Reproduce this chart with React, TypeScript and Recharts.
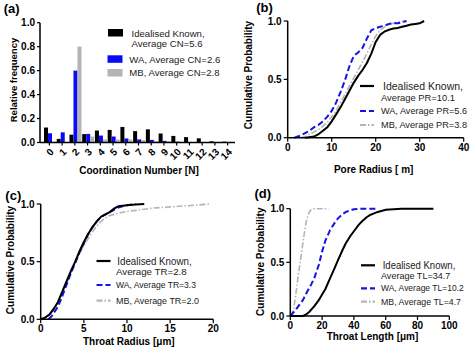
import React from "react"
import { BarChart, Bar, LineChart, Line, XAxis, YAxis } from "recharts"

const FONT = "'Liberation Sans', Arial, Helvetica, sans-serif"
const BLUE = "#1414e6"
const BLUE_BAR = "#0a0af5"
const GREY = "#b4b4b4"

// (a) coordination number histogram
const cnCategories = ["0", "1", "2", "3", "4", "5", "6", "7", "8", "9", "10", "11", "12", "13", "14"]
const cnIdealised = [0.125, 0.03, 0.065, 0.07, 0.1, 0.105, 0.13, 0.095, 0.11, 0.075, 0.055, 0.045, 0.035, 0.01, 0.007]
const cnWA = [0.077, 0.085, 0.6, 0.072, 0.058, 0.05, 0.034, 0.026, 0.022, 0.014, 0.007, 0.003, 0.002, 0.001, 0.001]
const cnMB = [0.005, 0.005, 0.8, 0.05, 0.025, 0.025, 0.025, 0.02, 0.012, 0.01, 0.005, 0.003, 0.002, 0.001, 0.001]

// (b) pore radius CDF
const prIdealised = [[4, 0], [6, 0.01], [7, 0.03], [8, 0.06], [9, 0.09], [10, 0.14], [11, 0.2], [12, 0.26], [13, 0.33], [14, 0.4], [15, 0.47], [16, 0.53], [17, 0.58], [18, 0.64], [19, 0.72], [20, 0.82], [21, 0.88], [22, 0.91], [23, 0.925], [24, 0.935], [25, 0.94], [26, 0.95], [27, 0.96], [28, 0.97], [29, 0.975], [30, 0.98], [31, 1.0]]
const prWA = [[1.5, 0], [3, 0.02], [5, 0.06], [6, 0.09], [7, 0.11], [8, 0.14], [9, 0.18], [10, 0.23], [11, 0.3], [12, 0.39], [13, 0.49], [14, 0.61], [15, 0.7], [16, 0.73], [17, 0.77], [18, 0.85], [19, 0.92], [20, 0.94], [21, 0.95], [22, 0.96], [23, 0.975], [24, 0.98], [25, 0.98], [26, 0.99], [27, 1.0]]
const prMB = [[3, 0], [4, 0.01], [5, 0.03], [6, 0.05], [7, 0.07], [8, 0.1], [9, 0.13], [10, 0.18], [11, 0.23], [12, 0.3], [13, 0.37], [14, 0.44], [15, 0.51], [16, 0.58], [17, 0.65], [18, 0.72], [19, 0.8], [20, 0.87], [21, 0.92], [22, 0.95], [23, 0.97], [24, 0.98], [25, 0.99], [26, 0.995], [27, 1.0]]

// (c) throat radius CDF
const trIdealised = [[0, 0], [0.5, 0.015], [1, 0.04], [1.5, 0.09], [2, 0.15], [2.5, 0.24], [3, 0.33], [3.5, 0.42], [4, 0.5], [4.5, 0.59], [5, 0.67], [5.5, 0.74], [6, 0.8], [6.5, 0.85], [7, 0.89], [7.5, 0.91], [8, 0.93], [8.5, 0.96], [9, 0.98], [10, 0.99], [11, 0.995], [12, 1.0]]
const trWA = [[0.9, 0], [1.3, 0.03], [2, 0.11], [2.5, 0.2], [3, 0.3], [3.5, 0.4], [4, 0.49], [4.5, 0.58], [5, 0.66], [5.5, 0.74], [6, 0.8], [6.5, 0.85], [7, 0.89], [8, 0.93], [9, 0.97], [10, 0.99], [11, 1.0]]
const trMB = [[0, 0], [0.5, 0.01], [1, 0.04], [1.5, 0.08], [2, 0.14], [2.5, 0.22], [3, 0.31], [3.5, 0.4], [4, 0.49], [4.5, 0.57], [5, 0.64], [5.5, 0.7], [6, 0.76], [6.5, 0.81], [7, 0.85], [7.5, 0.88], [8, 0.9], [9, 0.92], [10, 0.935], [11, 0.945], [12, 0.955], [13, 0.965], [14, 0.97], [15, 0.975], [16, 0.98], [17, 0.985], [18, 0.99], [19, 0.997], [19.5, 1.0]]

// (d) throat length CDF
const tlIdealised = [[0, 0], [8, 0], [10, 0.015], [12, 0.04], [15, 0.09], [18, 0.15], [20, 0.2], [22, 0.25], [25, 0.35], [28, 0.45], [30, 0.52], [33, 0.62], [35, 0.68], [38, 0.75], [40, 0.79], [43, 0.85], [45, 0.88], [48, 0.92], [50, 0.94], [55, 0.97], [60, 0.99], [65, 0.995], [70, 1.0], [90, 1.0]]
const tlWA = [[0, 0], [3, 0.05], [5, 0.09], [8, 0.15], [10, 0.21], [13, 0.29], [15, 0.35], [18, 0.48], [20, 0.6], [22, 0.7], [25, 0.8], [28, 0.87], [30, 0.91], [33, 0.95], [35, 0.97], [40, 0.995], [45, 1.0], [55, 1.0]]
const tlMB = [[0, 0], [1, 0.02], [2, 0.07], [3, 0.15], [4, 0.26], [5, 0.38], [6, 0.48], [7, 0.58], [8, 0.69], [9, 0.79], [10, 0.88], [11, 0.93], [12, 0.97], [13, 0.99], [14, 1.0], [24, 1.0]]

const cdfTicks = [0, 0.5, 1]

const pts = (arr: number[][]) => arr.map(([x, y]) => ({ x, y }))

const tickStyle = { fill: "#000", fontSize: 10, fontWeight: 700, fontFamily: FONT }
const axisLine = { stroke: "#000", strokeWidth: 1.5 }
const tickLine = { stroke: "#000", strokeWidth: 1.2 }
const fmt = (v: number) => v.toFixed(1)

const WA_DASH = "6 3"
const MB_DASH = "6 2 1.5 2"

function CdfChart({ left, top, width, height, margin, plotL, plotH, xDomain, xTicks, ideal, wa, mb }: any) {
  return (
    <div style={{ position: "absolute", left, top }}>
      <LineChart width={width} height={height} margin={margin}>
        <XAxis
          type="number"
          dataKey="x"
          domain={xDomain}
          ticks={xTicks}
          allowDuplicatedCategory={false}
          axisLine={axisLine}
          tickLine={tickLine}
          tickSize={4}
          tick={tickStyle}
          height={height - margin.top - plotH}
        />
        <YAxis
          type="number"
          domain={[0, 1]}
          ticks={cdfTicks}
          tickFormatter={fmt}
          axisLine={axisLine}
          tickLine={tickLine}
          tickSize={4}
          tick={tickStyle}
          width={plotL}
        />
        <Line data={pts(mb)} dataKey="y" stroke={GREY} strokeWidth={1.6} strokeDasharray={MB_DASH} dot={false} activeDot={false} isAnimationActive={false} />
        <Line data={pts(wa)} dataKey="y" stroke={BLUE} strokeWidth={2} strokeDasharray={WA_DASH} dot={false} activeDot={false} isAnimationActive={false} />
        <Line data={pts(ideal)} dataKey="y" stroke="#000" strokeWidth={2} dot={false} activeDot={false} isAnimationActive={false} />
      </LineChart>
    </div>
  )
}

// text helpers for the overlay svg
function T({ x, y, children, size = 10, bold = false, rotate = false, len }: any) {
  const anchor = bold || rotate ? "middle" : "start"
  return (
    <text
      x={x}
      y={y}
      fontFamily={FONT}
      fontSize={size}
      fontWeight={bold ? 700 : 400}
      fill={bold ? "#000" : "#222"}
      textAnchor={anchor}
      dominantBaseline="central"
      transform={rotate ? `rotate(-90 ${x} ${y})` : undefined}
      textLength={len}
      lengthAdjust={len !== undefined ? "spacingAndGlyphs" : undefined}
    >
      {children}
    </text>
  )
}

function Key({ x, y, kind }: { x: number; y: number; kind: "ideal" | "wa" | "mb" }) {
  const stroke = kind === "ideal" ? "#000" : kind === "wa" ? BLUE : GREY
  const dash = kind === "ideal" ? undefined : kind === "wa" ? WA_DASH : MB_DASH
  return <line x1={x} y1={y} x2={x + 14} y2={y} stroke={stroke} strokeWidth={2.2} strokeDasharray={dash} />
}

export default function App() {
  const cnData = cnCategories.map((c, i) => ({ cn: c, ideal: cnIdealised[i], wa: cnWA[i], mb: cnMB[i] }))

  return (
    <div style={{ position: "absolute", left: 0, top: 0, width: 474, height: 349, background: "#fff", overflow: "hidden" }}>
      {/* (a) */}
      <div style={{ position: "absolute", left: 0, top: 0 }}>
        <BarChart width={237} height={175} data={cnData} margin={{ top: 22.7, right: 2, bottom: 0, left: 0 }} barCategoryGap={1} barGap={0}>
          <XAxis
            dataKey="cn"
            interval={0}
            padding={{ left: 3, right: 1 }}
            axisLine={axisLine}
            tickLine={tickLine}
            tickSize={3}
            angle={-45}
            textAnchor="end"
            tick={tickStyle}
            height={32.5}
          />
          <YAxis
            domain={[0, 1]}
            ticks={[0, 0.2, 0.4, 0.6, 0.8, 1]}
            tickFormatter={fmt}
            axisLine={axisLine}
            tickLine={tickLine}
            tickSize={3}
            tick={tickStyle}
            width={40}
          />
          <Bar dataKey="ideal" fill="#000" isAnimationActive={false} />
          <Bar dataKey="wa" fill={BLUE_BAR} isAnimationActive={false} />
          <Bar dataKey="mb" fill={GREY} isAnimationActive={false} />
        </BarChart>
      </div>

      <CdfChart left={237} top={0} width={237} height={175} margin={{ top: 21, right: 10.3, bottom: 0, left: 0 }} plotL={50.7} plotH={116.7} xDomain={[0, 40]} xTicks={[0, 10, 20, 30, 40]} ideal={prIdealised} wa={prWA} mb={prMB} />
      <CdfChart left={0} top={175} width={237} height={174} margin={{ top: 29, right: 23.7, bottom: 0, left: 0 }} plotL={40.7} plotH={115.3} xDomain={[0, 20]} xTicks={[0, 5, 10, 15, 20]} ideal={trIdealised} wa={trWA} mb={trMB} />
      <CdfChart left={237} top={175} width={237} height={174} margin={{ top: 33.7, right: 24.7, bottom: 0, left: 0 }} plotL={53.3} plotH={107.3} xDomain={[0, 100]} xTicks={[0, 20, 40, 60, 80, 100]} ideal={tlIdealised} wa={tlWA} mb={tlMB} />

      <svg width={474} height={349} style={{ position: "absolute", left: 0, top: 0, pointerEvents: "none" }}>
        {/* panel letters */}
        <T x={11.7} y={8.3} size={13} bold>(a)</T>
        <T x={264.5} y={7.5} size={13} bold>(b)</T>
        <T x={13.3} y={195} size={13} bold>(c)</T>
        <T x={262.8} y={193.3} size={13} bold>(d)</T>

        {/* axis titles */}
        <T x={139} y={170} bold>Coordination Number [N]</T>
        <T x={13.3} y={80} size={9.5} bold rotate>Relative frequency</T>
        <T x={373.7} y={169} bold>Pore Radius [ m]</T>
        <T x={248} y={75} bold rotate>Cumulative Probability</T>
        <T x={128.8} y={341.7} bold>Throat Radius [μm]</T>
        <T x={10} y={260} bold rotate>Cumulative Probability</T>
        <T x={372.5} y={336.7} bold>Throat Length [μm]</T>
        <T x={260.3} y={261.7} bold rotate>Cumulative Probability</T>

        {/* legend (a) */}
        <rect x={108} y={29} width={15} height={7.5} fill="#000" />
        <T x={131.5} y={33} size={9.6}>Idealised Known,</T>
        <T x={131.5} y={43.3} size={9.6}>Average CN=5.6</T>
        <rect x={107.5} y={55.3} width={15} height={7.5} fill={BLUE_BAR} />
        <T x={129.3} y={59} size={9.6}>WA, Average CN=2.6</T>
        <rect x={107.5} y={69} width={15} height={7.5} fill={GREY} />
        <T x={129.3} y={72.7} size={9.6}>MB, Average CN=2.8</T>

        {/* legend (b) */}
        <Key x={360} y={86} kind="ideal" />
        <T x={383} y={86} len={80}>Idealised Known,</T>
        <T x={381} y={97.7} size={9.6} len={74}>Average PR=10.1</T>
        <Key x={360} y={111} kind="wa" />
        <T x={381} y={111} size={9} len={86}>WA, Average PR=5.6</T>
        <Key x={360} y={125} kind="mb" />
        <T x={381} y={125} size={9} len={86}>MB, Average PR=3.8</T>

        {/* legend (c) */}
        <Key x={96.5} y={261} kind="ideal" />
        <T x={117.3} y={261} len={74.4}>Idealised Known,</T>
        <T x={116} y={271.7} size={9.6} len={70.7}>Average TR=2.8</T>
        <Key x={96.5} y={285} kind="wa" />
        <T x={116} y={285} size={9} len={80}>WA, Average TR=3.3</T>
        <Key x={96.5} y={300.7} kind="mb" />
        <T x={116} y={300.7} size={9} len={83}>MB, Average TR=2.0</T>

        {/* legend (d) */}
        <Key x={361} y={265.3} kind="ideal" />
        <T x={382.7} y={265.3} len={72.6}>Idealised Known,</T>
        <T x={381} y={275} size={9.6} len={69.3}>Average TL=34.7</T>
        <Key x={361} y={288.3} kind="wa" />
        <T x={381} y={288.3} size={9} len={82.7}>WA, Average TL=10.2</T>
        <Key x={361} y={301.7} kind="mb" />
        <T x={381} y={301.7} size={9} len={80}>MB, Average TL=4.7</T>
      </svg>
    </div>
  )
}
